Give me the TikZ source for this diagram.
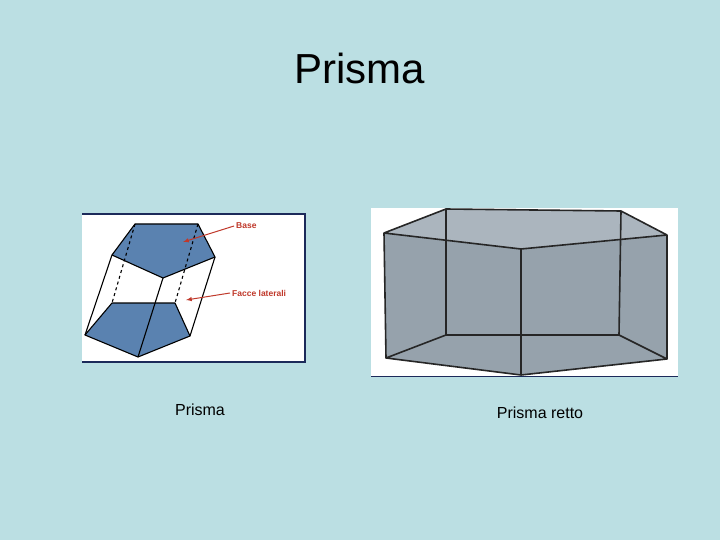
\documentclass[tikz,border=0pt]{standalone}
\usepackage{fontspec}
\setmainfont{Liberation Sans}
\definecolor{bg}{HTML}{BBDFE3}
\definecolor{fblue}{HTML}{5A82B0}
\definecolor{navy}{HTML}{1C2A5A}
\definecolor{gface}{HTML}{96A2AC}
\definecolor{gtop}{HTML}{ABB5BE}
\definecolor{lred}{HTML}{C0392B}
\tikzset{edge/.style={black,line width=1.1pt,line join=round},
 redge/.style={black!85,line width=1.6pt,line join=round},
 redarr/.style={lred,line width=1pt,-latex},
 lbl/.style={text=lred,font=\bfseries\fontsize{8.5}{9}\selectfont,inner sep=2pt,anchor=west}}
\begin{document}
\begin{tikzpicture}[x=1pt,y=-1pt]
\fill[bg] (0,0) rectangle (720,540);
\useasboundingbox (0,0) rectangle (720,540);
\node (title) at (360,68) {\fontsize{42}{46}\selectfont Prisma};
% left picture
\fill[white] (82,213) rectangle (305,362);
\draw[navy,line width=2.5pt] (82,214) -- (305,214) -- (305,362) -- (82,362);
\fill[fblue] (112,303) -- (175,303) -- (190,336) -- (138,357) -- (85,335) -- cycle;
\fill[fblue] (135,224) -- (198,224) -- (215,257) -- (163,278) -- (112,255) -- cycle;
\draw[edge] (112,303) -- (175,303) -- (190,336) -- (138,357) -- (85,335) -- cycle;
\draw[edge] (135,224) -- (198,224) -- (215,257) -- (163,278) -- (112,255) -- cycle;
\draw[edge] (112,255) -- (85,335) (163,278) -- (138,357) (215,257) -- (190,336);
\draw[edge,dashed] (135,224) -- (112,303) (198,224) -- (175,303);
\node[lbl] (base) at (234,226) {Base};
\node[lbl] (facce) at (230,293) {Facce laterali};
\coordinate (bt) at (183,242);
\coordinate (ft) at (186,300);
\draw[redarr] (base.west) -- (bt);
\draw[redarr] (facce.west) -- (ft);
% right picture
\fill[white] (371,208) rectangle (678,376);
\fill[gface] (384,233) -- (446,209) -- (621,211) -- (667,235) -- (667,359) -- (521,375) -- (386,358) -- cycle;
\fill[gtop] (384,233) -- (446,209) -- (621,211) -- (667,235) -- (521,249) -- cycle;
\draw[redge] (384,233) -- (446,209) -- (621,211) -- (667,235) -- (521,249) -- cycle;
\draw[redge] (386,358) -- (446,335) -- (619,335) -- (667,359) -- (521,375) -- cycle;
\draw[redge] (384,233) -- (386,358) (446,209) -- (446,335) (621,211) -- (619,335) (667,235) -- (667,359) (521,249) -- (521,375);
\draw[navy,line width=1pt] (371,376) -- (678,376);
\node (c1) at (200,410) {\fontsize{16}{18}\selectfont Prisma};
\node (c2) at (540,413) {\fontsize{16}{18}\selectfont Prisma retto};
\end{tikzpicture}
\end{document}
